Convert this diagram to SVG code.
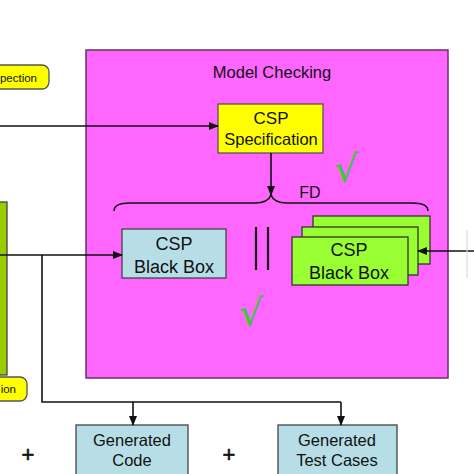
<svg xmlns="http://www.w3.org/2000/svg" width="474" height="474" viewBox="0 0 474 474">
<defs>
<marker id="ah" markerWidth="10" markerHeight="8" refX="9" refY="4" orient="auto" markerUnits="userSpaceOnUse">
<path d="M0,0 L10,4 L0,8 Z" fill="#111"/>
</marker>
<style>
text{font-family:"Liberation Sans",Arial,sans-serif;fill:#111}
.c{text-anchor:middle}
.ln{stroke:#111;stroke-width:1.6;fill:none}
.blue{fill:#B7DEE6;stroke:#444;stroke-width:1.3}
.grn{fill:#99FF33;stroke:#333;stroke-width:1.3}
.yel{fill:#FFFF00;stroke:#555;stroke-width:1.3}
.chk{font-family:"DejaVu Sans",sans-serif;fill:#33CC33}
.plus{font-size:22px;stroke:#111;stroke-width:0.6}
</style>
</defs>
<rect width="474" height="474" fill="#fff"/>
<g id="model-checking">
<rect x="86" y="50" width="362" height="328" fill="#FF66FF" stroke="#663366" stroke-width="1.5"/>
<text x="272" y="78" class="c" font-size="16.5">Model Checking</text>
</g>
<g id="left-spec">
<rect x="-20" y="65" width="69" height="24" rx="7" class="yel"/>
<text x="37" y="82" font-size="11.5" text-anchor="end">pection</text>
</g>
<g id="left-green">
<rect x="-10" y="202" width="17" height="173" fill="#99CC00" stroke="#444" stroke-width="1.3"/>
</g>
<g id="left-bottom">
<rect x="-20" y="377" width="47" height="24" rx="7" class="yel"/>
<text x="16" y="393" font-size="11.5" text-anchor="end">ion</text>
</g>
<g id="csp-spec">
<rect x="218" y="104" width="105" height="49" class="yel"/>
<text x="271" y="124" class="c" font-size="17">CSP</text>
<text x="271" y="145" class="c" font-size="16.5">Specification</text>
</g>
<g id="csp-bb">
<rect x="122" y="229" width="104" height="49" class="blue"/>
<text x="174" y="250" class="c" font-size="18">CSP</text>
<text x="174" y="273" class="c" font-size="18">Black Box</text>
</g>
<g id="parallel">
<line x1="256" y1="227" x2="256" y2="270" stroke="#111" stroke-width="2.2"/>
<line x1="268" y1="227" x2="268" y2="270" stroke="#111" stroke-width="2.2"/>
</g>
<g id="csp-bb-stack">
<rect x="313" y="216" width="117" height="48" class="grn"/>
<rect x="302" y="227" width="116" height="48" class="grn"/>
<rect x="292" y="237" width="116" height="48" class="grn"/>
<text x="349" y="256" class="c" font-size="18">CSP</text>
<text x="349" y="279" class="c" font-size="18">Black Box</text>
</g>
<g id="gen-code">
<rect x="76" y="425" width="112" height="60" class="blue"/>
<text x="132" y="446" class="c" font-size="16.5">Generated</text>
<text x="132" y="466" class="c" font-size="16.5">Code</text>
</g>
<g id="gen-tests">
<rect x="278" y="425" width="119" height="60" class="blue"/>
<text x="337" y="446" class="c" font-size="16.5">Generated</text>
<text x="337" y="466" class="c" font-size="16.5">Test Cases</text>
</g>
<g id="labels">
<text x="310" y="198" class="c" font-size="16">FD</text>
<text x="346" y="182" class="c chk" font-size="38">√</text>
<text x="251" y="326" class="c chk" font-size="38">√</text>
<text x="28" y="462" class="c plus">+</text>
<text x="229" y="462" class="c plus">+</text>
</g>
<g id="connectors">
<line x1="0" y1="126" x2="218" y2="126" class="ln" marker-end="url(#ah)"/>
<line x1="271" y1="153" x2="271" y2="195" class="ln" marker-end="url(#ah)"/>
<path d="M114,211 Q114,203 130,203 L255,203 Q268,203 271,195 Q274,203 287,203 L412,203 Q428,203 428,211" class="ln"/>
<line x1="0" y1="255" x2="122" y2="255" class="ln" marker-end="url(#ah)"/>
<line x1="474" y1="251" x2="418" y2="251" class="ln" marker-end="url(#ah)"/>
<line x1="467" y1="230" x2="467" y2="278" stroke="#ddd" stroke-width="1.2"/>
<polyline points="42,255 42,402 341,402" class="ln"/>
<line x1="133" y1="402" x2="133" y2="425" class="ln" marker-end="url(#ah)"/>
<line x1="341" y1="402" x2="341" y2="425" class="ln" marker-end="url(#ah)"/>
</g>
</svg>
